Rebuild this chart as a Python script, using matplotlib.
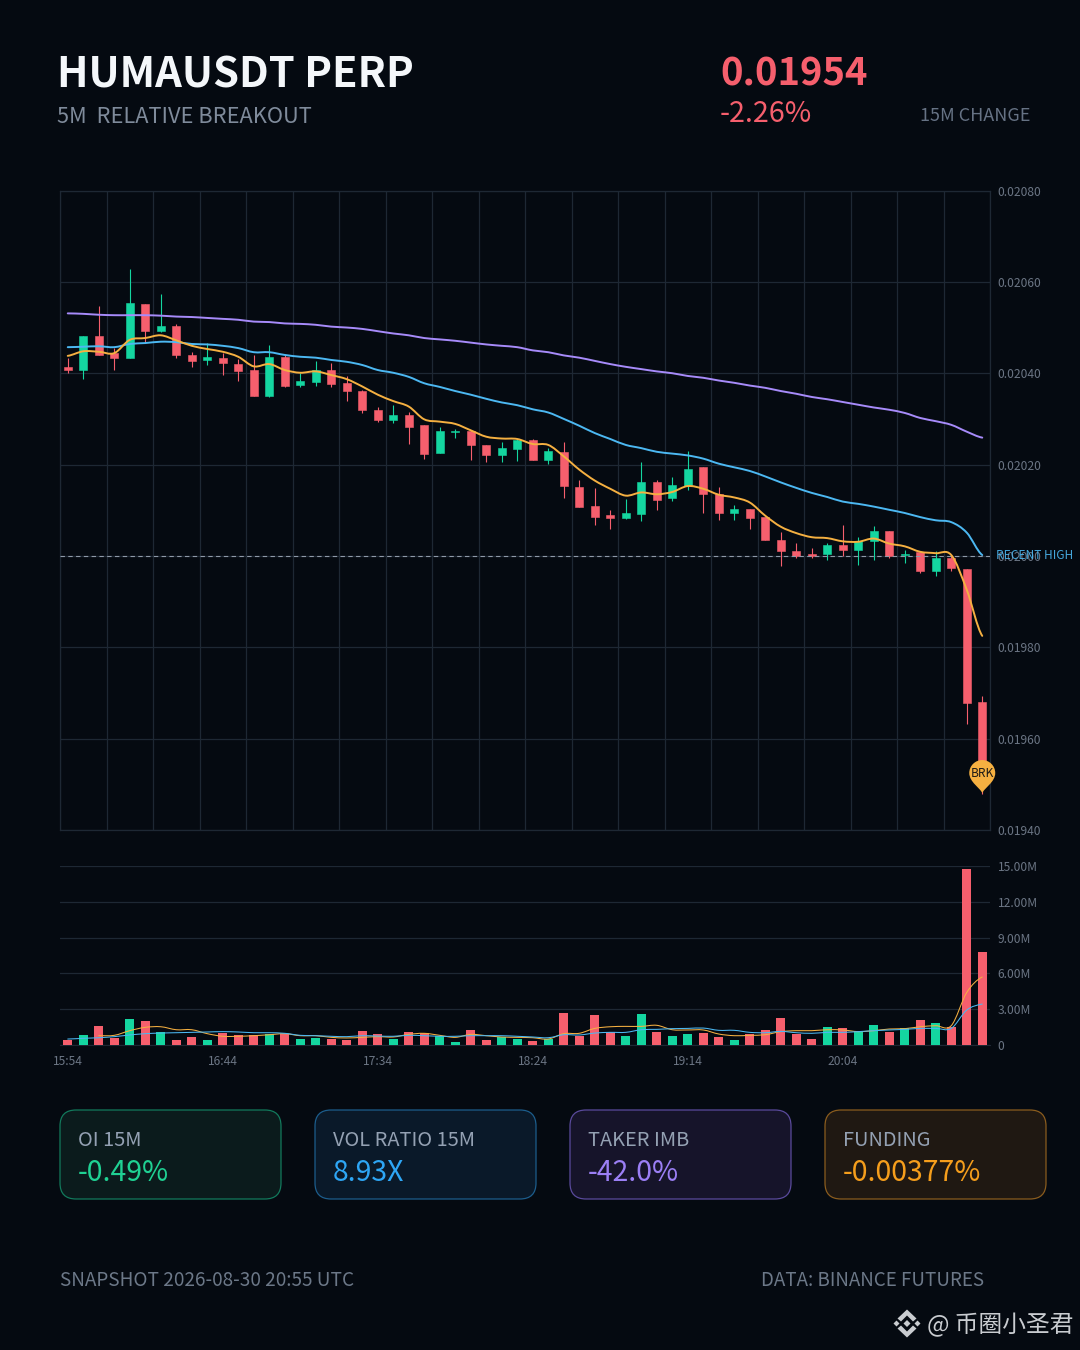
#!/usr/bin/env python
# -*- coding: utf-8 -*-

import matplotlib
matplotlib.use("Agg")
import matplotlib.pyplot as plt
from matplotlib.patches import FancyBboxPatch, Polygon, PathPatch
from matplotlib.path import Path

plt.rcParams['font.family'] = ['Noto Sans CJK SC', 'DejaVu Sans']

opens = [0.020413,0.020408,0.020482,0.020444,0.020433,0.020552,0.020493,0.020504,0.020440,0.020429,
         0.020434,0.020420,0.020406,0.020351,0.020436,0.020375,0.020380,0.020407,0.020378,0.020362,
         0.020320,0.020297,0.020309,0.020287,0.020225,0.020271,0.020273,0.020243,0.020222,0.020234,
         0.020253,0.020211,0.020228,0.020150,0.020110,0.020089,0.020083,0.020091,0.020162,0.020126,
         0.020154,0.020194,0.020135,0.020095,0.020103,0.020086,0.020035,0.020011,0.020004,0.020004,
         0.020024,0.020012,0.020032,0.020055,0.020002,0.020009,0.019967,0.019995,0.019972,0.019681]
highs = [0.020434,0.020482,0.020547,0.020455,0.020628,0.020552,0.020574,0.020508,0.020447,0.020466,
         0.020445,0.020431,0.020439,0.020462,0.020440,0.020400,0.020427,0.020422,0.020394,0.020364,
         0.020325,0.020330,0.020315,0.020287,0.020283,0.020278,0.020276,0.020243,0.020249,0.020256,
         0.020257,0.020236,0.020249,0.020167,0.020149,0.020101,0.020124,0.020205,0.020167,0.020173,
         0.020229,0.020194,0.020150,0.020112,0.020103,0.020086,0.020052,0.020029,0.020018,0.020029,
         0.020068,0.020041,0.020066,0.020055,0.020014,0.020009,0.020010,0.020002,0.019972,0.019693]
lows = [0.020401,0.020387,0.020439,0.020406,0.020433,0.020467,0.020491,0.020433,0.020413,0.020419,
        0.020395,0.020382,0.020350,0.020348,0.020369,0.020369,0.020373,0.020369,0.020339,0.020313,
        0.020293,0.020292,0.020244,0.020213,0.020225,0.020259,0.020209,0.020205,0.020205,0.020208,
        0.020211,0.020202,0.020127,0.020108,0.020068,0.020058,0.020080,0.020076,0.020101,0.020121,
        0.020144,0.020093,0.020078,0.020078,0.020060,0.020034,0.019979,0.019995,0.019995,0.019990,
        0.019999,0.019981,0.019991,0.019995,0.019984,0.019962,0.019957,0.019968,0.019631,0.019478]
closes = [0.020406,0.020482,0.020439,0.020433,0.020554,0.020493,0.020503,0.020439,0.020427,0.020435,
          0.020422,0.020404,0.020351,0.020436,0.020372,0.020383,0.020407,0.020377,0.020361,0.020320,
          0.020298,0.020308,0.020282,0.020224,0.020274,0.020274,0.020243,0.020222,0.020236,0.020254,
          0.020211,0.020229,0.020152,0.020108,0.020085,0.020084,0.020093,0.020161,0.020123,0.020156,
          0.020190,0.020135,0.020095,0.020103,0.020084,0.020034,0.020010,0.020000,0.020000,0.020025,
          0.020014,0.020032,0.020054,0.020000,0.020004,0.019967,0.019995,0.019974,0.019678,0.019540]

ma_fast = [0.020438,0.020448,0.020447,0.020444,0.020473,0.020477,0.020483,0.020472,0.020460,0.020453,
           0.020447,0.020436,0.020415,0.020420,0.020407,0.020401,0.020404,0.020396,0.020387,0.020371,
           0.020353,0.020339,0.020327,0.020299,0.020294,0.020289,0.020275,0.020261,0.020257,0.020256,
           0.020245,0.020243,0.020218,0.020189,0.020165,0.020147,0.020132,0.020139,0.020135,0.020140,
           0.020153,0.020147,0.020134,0.020128,0.020117,0.020088,0.020064,0.020050,0.020041,0.020039,
           0.020032,0.020031,0.020038,0.020027,0.020021,0.020009,0.020006,0.020002,0.019926,0.019825]
ma_mid = [0.020457,0.020458,0.020459,0.020457,0.020464,0.020466,0.020469,0.020468,0.020464,0.020463,
          0.020460,0.020455,0.020446,0.020446,0.020440,0.020436,0.020434,0.020429,0.020425,0.020418,
          0.020407,0.020401,0.020392,0.020378,0.020370,0.020361,0.020353,0.020344,0.020336,0.020330,
          0.020321,0.020314,0.020300,0.020285,0.020269,0.020256,0.020243,0.020236,0.020228,0.020224,
          0.020220,0.020213,0.020202,0.020194,0.020186,0.020174,0.020161,0.020149,0.020138,0.020129,
          0.020119,0.020114,0.020108,0.020101,0.020094,0.020085,0.020078,0.020074,0.020051,0.020002]
ma_slow = [0.020531,0.020530,0.020528,0.020527,0.020527,0.020527,0.020526,0.020524,0.020523,0.020521,
           0.020519,0.020517,0.020513,0.020512,0.020509,0.020508,0.020506,0.020502,0.020500,0.020497,
           0.020492,0.020487,0.020483,0.020477,0.020474,0.020471,0.020467,0.020463,0.020460,0.020457,
           0.020450,0.020446,0.020439,0.020434,0.020427,0.020420,0.020414,0.020409,0.020404,0.020400,
           0.020394,0.020390,0.020384,0.020379,0.020373,0.020368,0.020361,0.020355,0.020348,0.020343,
           0.020337,0.020331,0.020325,0.020320,0.020313,0.020302,0.020295,0.020287,0.020272,0.020259]

volumes = [0.42,0.80,1.59,0.61,2.18,2.00,1.09,0.42,0.67,0.42,
           1.00,0.80,0.84,0.92,0.92,0.47,0.59,0.47,0.42,1.17,
           0.89,0.53,1.06,0.98,0.73,0.22,1.26,0.39,0.67,0.50,
           0.33,0.53,2.65,0.78,2.51,1.12,0.78,2.57,1.09,0.73,
           0.92,0.98,0.70,0.45,0.95,1.23,2.23,0.95,0.50,1.48,
           1.39,1.14,1.65,1.12,1.39,2.06,1.81,1.48,14.73,7.78]
vol_fast = [0.78,0.81,1.20,1.48,1.53,1.28,1.28,0.95,
            0.73,0.73,0.78,0.86,0.95,0.78,0.78,0.64,0.59,0.64,
            0.70,0.67,0.89,0.98,0.81,0.64,0.89,0.78,0.67,0.64,
            0.61,0.50,0.95,0.98,1.39,1.53,1.56,1.56,1.65,1.28,
            1.26,1.26,0.92,0.78,0.81,0.86,1.12,1.20,1.20,1.28,
            1.26,1.12,1.20,1.34,1.37,1.53,1.62,1.62,4.40,5.70]
vol_slow = [0.50,0.56,0.61,0.70,0.84,0.95,1.00,1.03,1.06,1.09,
            1.12,1.09,1.03,1.03,0.98,0.81,0.78,0.73,0.70,0.78,
            0.75,0.73,0.81,0.78,0.73,0.73,0.78,0.78,0.78,0.73,
            0.67,0.61,0.86,0.84,1.00,1.06,1.06,1.28,1.31,1.37,
            1.39,1.42,1.23,1.23,1.06,1.03,1.14,1.03,0.98,1.06,
            1.06,1.12,1.20,1.26,1.31,1.39,1.39,1.39,2.93,3.43]

time_labels = ['15:54','16:44','17:34','18:24','19:14','20:04']
price_ticks = [0.0194,0.0196,0.0198,0.0200,0.0202,0.0204,0.0206,0.0208]
vol_ticks = [0,3,6,9,12,15]
vol_tick_labels = ['0','3.00M','6.00M','9.00M','12.00M','15.00M']
recent_high = 0.0200

card_labels = ['OI 15M','VOL RATIO 15M','TAKER IMB','FUNDING']
card_values = ['-0.49%','8.93X','-42.0%','-0.00377%']

BG = '#050a11'
GRID = '#1e2834'
RED = '#f65f6d'
GREEN = '#14d6a0'
ORANGE = '#f5b041'
BLUE = '#4cb8f2'
PURPLE = '#a78bfa'
TICK = '#6b7584'

W, H = 1080, 1350
fig = plt.figure(figsize=(W/100, H/100), dpi=100, facecolor=BG)

def px_axes(left, top, right, bottom):
    return fig.add_axes([left/W, 1-bottom/H, (right-left)/W, (bottom-top)/H], facecolor=BG)

def smooth_line(axis, x, y, color, lw, zorder):
    # rounded line through the read points, like the smooth series of the original
    verts = [(x[0], y[0])]
    for i in range(len(x)-1):
        y0 = y[max(i-1, 0)]
        y3 = y[min(i+2, len(y)-1)]
        verts.append((x[i]+1/3, y[i]+(y[i+1]-y0)/6))
        verts.append((x[i+1]-1/3, y[i+1]-(y3-y[i])/6))
        verts.append((x[i+1], y[i+1]))
    codes = [Path.MOVETO] + [Path.CURVE4]*(len(verts)-1)
    axis.add_patch(PathPatch(Path(verts, codes), facecolor='none', edgecolor=color, lw=lw,
                             zorder=zorder, capstyle='round'))

n = len(closes)
xs = list(range(n))
colors = [GREEN if c >= o else RED for o, c in zip(opens, closes)]

# candles
ax = px_axes(60, 190.5, 990, 830)
ax.set_xlim(-0.5, n-0.5)
ax.set_ylim(0.0194, 0.0208)
for i in range(0, n+1, 3):
    ax.axvline(i-0.5, color=GRID, lw=0.9, zorder=1)
ax.set_yticks(price_ticks)
ax.set_yticklabels(['%.5f' % p for p in price_ticks])
ax.grid(axis='y', color=GRID, lw=0.9, zorder=1)
ax.set_axisbelow(True)
ax.set_xticks([])
ax.yaxis.tick_right()
ax.tick_params(axis='y', length=0, pad=5.5, labelsize=8.7, labelcolor=TICK)
for s in ax.spines.values():
    s.set_color(GRID)
    s.set_linewidth(0.9)

ax.vlines(xs, lows, highs, color=colors, lw=0.8, zorder=3)
ax.bar(xs, [abs(c-o) for o, c in zip(opens, closes)], bottom=[min(o, c) for o, c in zip(opens, closes)],
       width=0.52, color=colors, edgecolor=colors, linewidth=0.4, zorder=4)
smooth_line(ax, xs, ma_slow, PURPLE, 1.4, 5)
smooth_line(ax, xs, ma_mid, BLUE, 1.4, 5)
smooth_line(ax, xs, ma_fast, ORANGE, 1.4, 6)
ax.axhline(recent_high, color='#8f9aa8', lw=0.8, ls=(0, (4, 3)), zorder=5)
ax.annotate('RECENT HIGH', xy=(1, recent_high), xycoords=('axes fraction', 'data'), xytext=(4.3, 0),
            textcoords='offset points', color=BLUE, fontsize=8.6, va='center', annotation_clip=False, alpha=0.9)

# volume
vax = px_axes(60, 866, 990, 1045)
vax.set_xlim(-0.5, n-0.5)
vax.set_ylim(0, 15)
vax.set_yticks(vol_ticks)
vax.set_yticklabels(vol_tick_labels)
vax.grid(axis='y', color=GRID, lw=0.9)
vax.set_axisbelow(True)
vax.yaxis.tick_right()
vax.set_xticks(xs[::10])
vax.set_xticklabels(time_labels)
vax.tick_params(axis='y', length=0, pad=5.5, labelsize=8.7, labelcolor=TICK)
vax.tick_params(axis='x', length=0, pad=7, labelsize=8.7, labelcolor=TICK)
for k, s in vax.spines.items():
    s.set_visible(k == 'bottom')
    s.set_color(GRID)
vax.bar(xs, volumes, width=0.55, color=colors, zorder=3)
smooth_line(vax, xs[2:], vol_fast, ORANGE, 0.75, 4)
smooth_line(vax, xs, vol_slow, BLUE, 0.75, 4)

# page overlay in pixel units
ov = fig.add_axes([0, 0, 1, 1], facecolor='none')
ov.set_xlim(0, W)
ov.set_ylim(H, 0)
ov.axis('off')

def label(x, y, s, size, color, weight='normal', ha='left'):
    ov.text(x, y, s, fontsize=size*0.72, color=color, fontweight=weight, ha=ha, va='center')

label(57, 75.5, 'HUMAUSDT PERP', 41.7, '#f4f7fa', weight='bold')
label(57, 117, '5M  RELATIVE BREAKOUT', 21.8, '#7f8b9b')
label(720, 73.5, '%.5f' % closes[-1], 38.2, RED, weight='bold')
label(720, 114, '-2.26%', 28.7, RED)
label(1030, 116, '15M CHANGE', 18, '#667284', ha='right')

# BRK pin
px, py = ax.transData.transform((59, closes[-1]))
cx, cy = px, H-py+7
r = 13
k = 0.5523*r
pin = Path([(cx, cy+20),
            (cx-2, cy+15), (cx-r, cy+9), (cx-r, cy),
            (cx-r, cy-k), (cx-k, cy-r), (cx, cy-r),
            (cx+k, cy-r), (cx+r, cy-k), (cx+r, cy),
            (cx+r, cy+9), (cx+2, cy+15), (cx, cy+20)],
           [Path.MOVETO] + [Path.CURVE4]*12)
ov.add_patch(PathPatch(pin, facecolor=ORANGE, edgecolor='none', zorder=6))
ov.text(cx, cy, 'BRK', fontsize=8.6, color='#1d1a16', ha='center', va='center', zorder=7)

# stat cards
card_x = [60, 315, 570, 825]
card_fill = ['#0b1b1c', '#0a1929', '#16142a', '#1f1812']
card_edge = ['#127a5c', '#1c5d8c', '#5a4a9c', '#8a5c1e']
card_text = ['#1fd193', '#2ea6f5', '#9b7ff5', '#f59e1c']
for x0, lab, val, fc, ec, tc in zip(card_x, card_labels, card_values, card_fill, card_edge, card_text):
    ov.add_patch(FancyBboxPatch((x0+16, 1126), 221-32, 89-32, boxstyle='round,pad=16,rounding_size=16',
                                facecolor=fc, edgecolor=ec, lw=0.9))
    label(x0+18, 1140, lab, 20, '#94a1b3')
    label(x0+18, 1173, val, 28.4, tc)

# footer
label(60, 1280, 'SNAPSHOT 2026-08-30 20:55 UTC', 19, '#6c7888')
label(984, 1280, 'DATA: BINANCE FUTURES', 18.8, '#6c7888', ha='right')

# watermark
mark = '#c9ccd0'
lx, ly = 907, 1323.5
for sign in (-1, 1):
    ov.add_patch(Polygon([(lx, ly+sign*14), (lx+9.5, ly+sign*5), (lx+6, ly+sign*2), (lx, ly+sign*8),
                          (lx-6, ly+sign*2), (lx-9.5, ly+sign*5)], facecolor=mark, edgecolor='none'))
    ov.add_patch(Polygon([(lx+sign*10.5, ly-3), (lx+sign*13.5, ly), (lx+sign*10.5, ly+3), (lx+sign*7.5, ly)],
                         facecolor=mark, edgecolor='none'))
ov.add_patch(Polygon([(lx-3.5, ly), (lx, ly-3.5), (lx+3.5, ly), (lx, ly+3.5)], facecolor=mark, edgecolor='none'))
label(927, 1325, '@ 币圈小圣君', 23.7, mark)

fig.savefig('out.png', dpi=100, facecolor=BG)
